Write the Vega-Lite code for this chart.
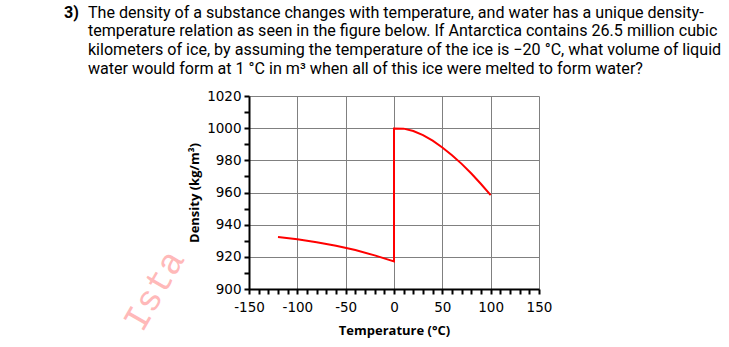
{
  "$schema": "https://vega.github.io/schema/vega-lite/v6.json",
  "autosize": {"type": "none"},
  "width": 290,
  "height": 193,
  "padding": {"left": 249, "top": 96, "right": 190, "bottom": 58},
  "background": "white",
  "title": {
    "text": "3)",
    "subtitle": [
      "\u200b\u00a0\u00a0\u00a0\u00a0\u00a0\u00a0The density of a substance changes with temperature, and water has a unique density-",
      "\u200b\u00a0\u00a0\u00a0\u00a0\u00a0\u00a0temperature relation as seen in the figure below. If Antarctica contains 26.5 million cubic",
      "\u200b\u00a0\u00a0\u00a0\u00a0\u00a0\u00a0kilometers of ice, by assuming the temperature of the ice is \u221220 \u00b0C, what volume of liquid",
      "\u200b\u00a0\u00a0\u00a0\u00a0\u00a0\u00a0water would form at 1 \u00b0C in m\u00b3 when all of this ice were melted to form water?"
    ],
    "anchor": "start",
    "frame": "group",
    "dx": -185,
    "offset": 12,
    "font": "Roboto",
    "fontSize": 16.1,
    "fontWeight": "bold",
    "color": "black",
    "subtitleFont": "Roboto",
    "subtitleFontSize": 16.1,
    "subtitleColor": "black",
    "subtitleLineHeight": 18.7,
    "subtitlePadding": -16
  },
  "data": {
    "values": [
      {"i": 1, "t": -120, "rho": 932.3},
      {"i": 2, "t": -100, "rho": 930.9},
      {"i": 3, "t": -80, "rho": 929.1},
      {"i": 4, "t": -60, "rho": 926.9},
      {"i": 5, "t": -40, "rho": 924.2},
      {"i": 6, "t": -20, "rho": 920.9},
      {"i": 7, "t": 0, "rho": 917.2},
      {"i": 8, "t": 0, "rho": 999.8},
      {"i": 9, "t": 10, "rho": 999.7},
      {"i": 10, "t": 20, "rho": 998.2},
      {"i": 11, "t": 30, "rho": 995.7},
      {"i": 12, "t": 40, "rho": 992.2},
      {"i": 13, "t": 50, "rho": 988.0},
      {"i": 14, "t": 60, "rho": 983.2},
      {"i": 15, "t": 70, "rho": 977.8},
      {"i": 16, "t": 80, "rho": 971.8},
      {"i": 17, "t": 90, "rho": 965.3},
      {"i": 18, "t": 100, "rho": 958.4}
    ]
  },
  "layer": [
    {
      "mark": {"type": "line", "color": "#ff0000", "strokeWidth": 2, "opacity": 0},
      "encoding": {
        "x": {
          "field": "t",
          "type": "quantitative",
          "scale": {"domain": [-150, 150], "nice": false},
          "axis": {
            "orient": "top",
            "title": null,
            "values": [-150, -100, -50, 0, 50, 100, 150],
            "labels": false,
            "ticks": false,
            "domain": false,
            "grid": true,
            "gridColor": "#808080",
            "gridWidth": 1
          }
        },
        "y": {
          "field": "rho",
          "type": "quantitative",
          "scale": {"domain": [900, 1020], "nice": false, "zero": false},
          "axis": {
            "orient": "right",
            "title": null,
            "values": [900, 920, 940, 960, 980, 1000, 1020],
            "labels": false,
            "ticks": false,
            "domain": false,
            "grid": true,
            "gridColor": "#808080",
            "gridWidth": 1
          }
        }
      }
    },
    {
      "mark": {"type": "line", "color": "#ff0000", "strokeWidth": 2},
      "encoding": {
        "x": {
          "field": "t",
          "type": "quantitative",
          "scale": {"domain": [-150, 150], "nice": false},
          "axis": {
            "orient": "bottom",
            "title": "Temperature (\u00b0C)",
            "values": [-150, -140, -130, -120, -110, -100, -90, -80, -70, -60, -50, -40, -30, -20, -10, 0, 10, 20, 30, 40, 50, 60, 70, 80, 90, 100, 110, 120, 130, 140, 150],
            "labelExpr": "datum.value % 50 === 0 ? (datum.value < 0 ? '-' + abs(datum.value) : '' + datum.value) : ''",
            "labelOverlap": false,
            "labelFlush": false,
            "grid": false,
            "domainColor": "black",
            "domainWidth": 2,
            "tickColor": "black",
            "tickWidth": 2,
            "tickSize": 5,
            "labelFont": "DejaVu Sans",
            "labelFontSize": 13.5,
            "labelColor": "black",
            "labelPadding": 6,
            "titleFont": "Open Sans",
            "titleFontSize": 13,
            "titleFontWeight": "bold",
            "titleColor": "black",
            "titlePadding": 11
          }
        },
        "y": {
          "field": "rho",
          "type": "quantitative",
          "scale": {"domain": [900, 1020], "nice": false, "zero": false},
          "axis": {
            "orient": "left",
            "title": "Density (kg/m\u00b3)",
            "values": [900, 910, 920, 930, 940, 950, 960, 970, 980, 990, 1000, 1010, 1020],
            "labelExpr": "datum.value % 20 === 0 ? '' + datum.value : ''",
            "labelOverlap": false,
            "labelFlush": false,
            "grid": false,
            "domainColor": "black",
            "domainWidth": 2,
            "tickColor": "black",
            "tickWidth": 2,
            "tickSize": 5,
            "labelFont": "DejaVu Sans",
            "labelFontSize": 13.5,
            "labelColor": "black",
            "labelPadding": 3,
            "titleFont": "Open Sans",
            "titleFontSize": 13,
            "titleFontWeight": "bold",
            "titleColor": "black",
            "titlePadding": 5
          }
        },
        "order": {"field": "i", "type": "quantitative"}
      }
    },
    {
      "data": {"values": [{"w": "Ista", "wx": -248, "wy": 899}]},
      "mark": {"type": "text", "font": "Liberation Mono", "fontSize": 36, "angle": 300, "color": "#ff8080", "opacity": 0.55, "align": "center", "baseline": "middle"},
      "encoding": {
        "x": {"field": "wx", "type": "quantitative", "axis": null},
        "y": {"field": "wy", "type": "quantitative", "axis": null},
        "text": {"field": "w"}
      }
    }
  ],
  "resolve": {"axis": {"x": "independent", "y": "independent"}},
  "config": {"view": {"stroke": null}}
}
